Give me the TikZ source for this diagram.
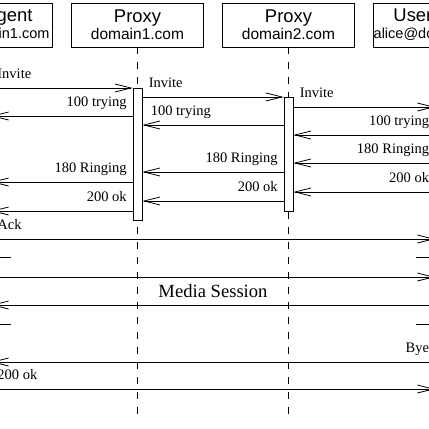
\documentclass[tikz,border=0pt]{standalone}
\usepackage{fontspec}
\setmainfont{Liberation Serif}
\setsansfont{Liberation Sans}
\usetikzlibrary{arrows.meta,positioning}

\newcommand{\namefont}{\fontsize{18.4}{20}\selectfont}
\newcommand{\hostfont}{\sffamily\fontsize{15.5}{17}\selectfont}
\newcommand{\mailfont}{\sffamily\fontsize{14.5}{17}\selectfont}

\begin{document}
\begin{tikzpicture}[
  x=1pt, y=-1pt, line width=0.8pt,
  >={Straight Barb[length=16pt,width=8pt]},
  party/.style={rectangle, draw, minimum width=132pt, minimum height=44pt, align=center, inner sep=0pt, font=\hostfont},
  life/.style={dash pattern=on 7pt off 8pt},
  activation/.style={rectangle, draw, fill=white, minimum width=9pt, inner sep=0pt, anchor=north},
  msg/.style={->},
  lbl/.style={font=\fontsize{14.5}{16}\selectfont, inner sep=0pt},
  req/.style={lbl, at start, anchor=base west, xshift=6pt, yshift=9.5pt},
  rep/.style={lbl, at start, anchor=base east, xshift=-5.5pt, yshift=9.5pt},
  node distance=18.2pt
]
\useasboundingbox (0,0) rectangle (429,429);

% parties
\node[party] (agent) at (-13.5,25) {{\namefont User Agent}\\ \mailfont bob@domain1.com};
\node[party, right=of agent] (proxyA) {{\namefont Proxy}\\ domain1.com};
\node[party, right=of proxyA] (proxyB) {{\namefont Proxy}\\ domain2.com};
\node[party, right=of proxyB] (user) {{\namefont User Agent}\\ \mailfont alice@domain2.com};

% lifelines
\coordinate (bottom) at (0,421);
\draw[life] (proxyA.south) -- (proxyA.south |- bottom);
\draw[life] (proxyB.south) -- (proxyB.south |- bottom);
\coordinate (agentR) at ([xshift=4.5pt]agent.south);
\coordinate (userL) at ([xshift=-4.5pt]user.south);

% activations
\node[activation, minimum height=132pt] (actA) at (proxyA.south |- 0,88) {};
\node[activation, minimum height=114pt] (actB) at (proxyB.south |- 0,97) {};

% call setup
\draw[msg] (agentR |- 0,88) -- node[req] {Invite} (actA.west |- 0,88);
\draw[msg] (actA.east |- 0,97) -- node[req] {Invite} (actB.west |- 0,97);
\draw[msg] (actB.east |- 0,107) -- node[req] {Invite} (userL |- 0,107);
\draw[msg] (actA.west |- 0,116) -- node[rep] {100 trying} (agentR |- 0,116);
\draw[msg] (actB.west |- 0,125) -- node[lbl, at end, anchor=base west, xshift=8pt, yshift=9.5pt] {100 trying} (actA.east |- 0,125);
\draw[msg] (userL |- 0,135) -- node[rep] {100 trying} (actB.east |- 0,135);
\draw[msg] (userL |- 0,163) -- node[rep] {180 Ringing} (actB.east |- 0,163);
\draw[msg] (actB.west |- 0,172) -- node[rep] {180 Ringing} (actA.east |- 0,172);
\draw[msg] (actA.west |- 0,182) -- node[rep] {180 Ringing} (agentR |- 0,182);
\draw[msg] (userL |- 0,192) -- node[rep] {200 ok} (actB.east |- 0,192);
\draw[msg] (actB.west |- 0,201) -- node[rep] {200 ok} (actA.east |- 0,201);
\draw[msg] (actA.west |- 0,211) -- node[rep] {200 ok} (agentR |- 0,211);
\draw[msg] (agentR |- 0,239) -- node[req] {Ack} (userL |- 0,239);

% media session
\draw (agent.south |- 0,257) ++(-24,0) -- ++(48,0);
\draw (user.south |- 0,257) ++(-24,0) -- ++(48,0);
\draw[msg] (agentR |- 0,277) -- (userL |- 0,277);
\path (proxyA.south |- 0,291) -- node[font=\fontsize{18.6}{20}\selectfont] (media) {Media Session} (proxyB.south |- 0,291);
\draw[msg] (userL |- 0,305) -- (agentR |- 0,305);
\draw (agent.south |- 0,324) ++(-24,0) -- ++(48,0);
\draw (user.south |- 0,324) ++(-24,0) -- ++(48,0);

% teardown
\draw[msg] (userL |- 0,362) -- node[rep] {Bye} (agentR |- 0,362);
\draw[msg] (agentR |- 0,389) -- node[req] {200 ok} (userL |- 0,389);
\end{tikzpicture}
\end{document}
